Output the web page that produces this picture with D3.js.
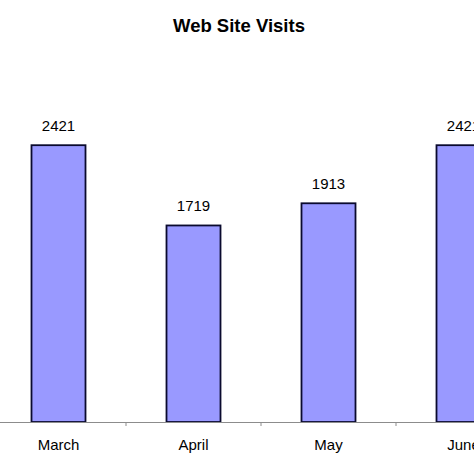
<!DOCTYPE html>
<html lang="en">
  <head>
    <meta charset="utf-8">
    <title>Web Site Visits</title>
    <style>
      body { margin: 0; background: #fff; }
      svg { display: block; font-family: "Liberation Sans", Arial, sans-serif; }
    </style>
  </head>
  <body>
    <script src="https://d3js.org/d3.v7.min.js"></script>
    <script>
    const months = ["March", "April", "May", "June"]
    const visits = [2421, 1719, 1913, 2421]
    const title = "Web Site Visits"

    const w = 474
    const h = 474
    const base = 422  // baseline of the plot

    const svg = d3.select("body").append("svg")
      .attr("width", w)
      .attr("height", h)

    const x = d3.scaleBand()
      .domain(months)
      .range([-9, 531])
      .paddingInner(0.6)
      .paddingOuter(0.3)

    const y = d3.scaleLinear()
      .domain([0, 3000])
      .range([base, 79])

    svg.append("text")
      .attr("x", 239)
      .attr("y", 32)
      .attr("text-anchor", "middle")
      .style("font-size", "18.5px")
      .style("font-weight", "bold")
      .text(title)

    // bars
    svg.selectAll("rect.bar")
      .data(months)
      .enter().append("rect")
      .attr("class", "bar")
      .attr("x", d => x(d))
      .attr("y", (d, i) => y(visits[i]))
      .attr("width", x.bandwidth())
      .attr("height", (d, i) => base - y(visits[i]))
      .attr("fill", "#9999ff")
      .attr("stroke", "#0a0a2e")
      .attr("stroke-width", 1.8)

    // value labels
    svg.selectAll("text.val")
      .data(months)
      .enter().append("text")
      .attr("class", "val")
      .attr("x", d => x(d) + x.bandwidth() / 2)
      .attr("y", (d, i) => y(visits[i]) - 14)
      .attr("text-anchor", "middle")
      .style("font-size", "15px")
      .text((d, i) => visits[i])

    // x axis
    const xAxis = d3.axisBottom(x).tickSize(0).tickPadding(17)
    const gx = svg.append("g")
      .attr("transform", `translate(0, ${base})`)
      .call(xAxis)
    gx.select(".domain").attr("stroke", "#8c8c8c")
    gx.selectAll("text")
      .style("font-size", "15px")
      .style("font-family", "'Liberation Sans', Arial, sans-serif")
      .attr("fill", "#000")

    // tick marks between categories
    const gap = (x.step() - x.bandwidth()) / 2
    gx.selectAll("line.sep")
      .data(months.slice(1))
      .enter().append("line")
      .attr("class", "sep")
      .attr("x1", d => x(d) - gap)
      .attr("x2", d => x(d) - gap)
      .attr("y1", 0)
      .attr("y2", 4)
      .attr("stroke", "#8c8c8c")
    </script>
  </body>
</html>
